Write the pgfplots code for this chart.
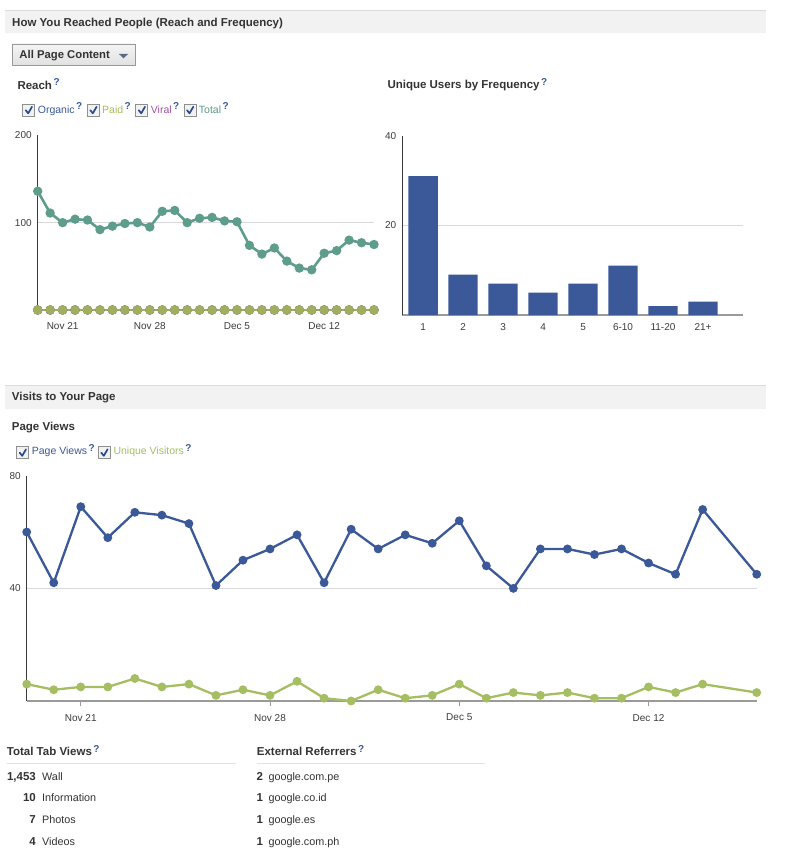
\documentclass[border=0pt]{standalone}
\usepackage{fontspec}
\setmainfont{Liberation Sans}
\usepackage{pgfplots}
\pgfplotsset{compat=1.18}
\usepackage{pgfplotstable}

\definecolor{txt}{HTML}{333333}
\definecolor{labelgray}{HTML}{3C3C3C}
\definecolor{gridgray}{HTML}{D9D9D9}
\definecolor{axisdark}{HTML}{3A3A3A}
\definecolor{xaxisgray}{HTML}{9A9A9A}
\definecolor{fbblue}{HTML}{3B5998}
\definecolor{tealc}{HTML}{5E9C8C}
\definecolor{olivec}{HTML}{A0AF5C}
\definecolor{uvgreen}{HTML}{A5BE62}
\definecolor{paidtxt}{HTML}{A9B957}
\definecolor{viralc}{HTML}{A552A6}
\definecolor{totaltxt}{HTML}{5B9A8B}
\definecolor{bandfill}{HTML}{F2F2F2}
\definecolor{bandline}{HTML}{DCDCDC}
\definecolor{cbborder}{HTML}{8E8F8F}
\definecolor{cbfill}{HTML}{F1F1F1}
\definecolor{cbcheck}{HTML}{2B4A8B}
\definecolor{sepline}{HTML}{E3E3E3}

\pgfplotstableread{
idx total zero
0 136 0
1 111 0
2 100 0
3 104 0
4 103 0
5 92 0
6 96 0
7 99 0
8 100 0
9 95 0
10 113 0
11 114 0
12 100 0
13 105 0
14 106 0
15 102 0
16 101 0
17 74 0
18 64 0
19 71 0
20 56 0
21 48 0
22 46 0
23 65 0
24 68 0
25 80 0
26 77 0
27 75 0
}\reachtable

\pgfplotstableread{
idx users
0 31
1 9
2 7
3 5
4 7
5 11
6 2
7 3
}\freqtable

\pgfplotstableread{
idx pv uv
0 60 6
1 42 4
2 69 5
3 58 5
4 67 8
5 66 5
6 63 6
7 41 2
8 50 4
9 54 2
10 59 7
11 42 1
12 61 0
13 54 4
14 59 1
15 56 2
16 64 6
17 48 1
18 40 3
19 54 2
20 54 3
21 52 1
22 54 1
23 49 5
24 45 3
25 68 6
27 45 3
}\pvtable

\newcommand{\hb}{\fontsize{11.5}{13}\selectfont\bfseries}
\newcommand{\rg}{\fontsize{10.5}{12}\selectfont}
\newcommand{\rl}{\fontsize{10.8}{12}\selectfont}
\newcommand{\qm}{\hspace{1.5pt}\raisebox{3.5pt}{\fontsize{10}{10}\selectfont\bfseries\color{fbblue}?}}

\newcommand{\cb}[2]{%
  \draw[draw=cbborder, fill=cbfill, line width=0.8pt] (#1,#2) rectangle ++(12,12);
  \draw[cbcheck, line width=1.7pt, line cap=round, line join=round] (#1+3,#2+6.2) -- (#1+5.5,#2+9.3) -- (#1+9.3,#2+2.8);
}

\pgfplotsset{
  fbaxis/.style={
    scale only axis, clip=false, axis lines*=left, anchor=south west,
    tick label style={font=\fontsize{10}{11}\selectfont, text=labelgray},
    /pgf/number format/assume math mode=true,
    major tick length=0pt,
    ymajorgrids, grid style={gridgray, line width=0.8pt},
    extra y tick style={grid=none},
    yticklabel style={xshift=-2.5pt},
  }
}

\begin{document}
\begin{tikzpicture}
\fill[white] (0pt,0pt) rectangle (794pt,-853pt);
\useasboundingbox (0pt,0pt) rectangle (794pt,-853pt);

\begin{scope}[x=1pt,y=-1pt]
  % header bands
  \fill[bandfill] (5,10) rectangle (766,33.3);
  \draw[bandline, line width=0.8pt] (5,10) -- (766,10);
  \fill[bandfill] (5,385) rectangle (766,409);
  \draw[bandline, line width=0.8pt] (5,385) -- (766,385);
  \node[anchor=base west, inner sep=0, font=\hb, text=txt] at (12,26.7) {How You Reached People (Reach and Frequency)};
  \node[anchor=base west, inner sep=0, font=\hb, text=txt] at (11.7,400.7) {Visits to Your Page};

  % dropdown button
  \shade[top color=white!96!black, bottom color=white!88!black] (12,44) rectangle (135.7,65.7);
  \draw[black!40, line width=0.9pt] (12,44) rectangle (135.7,65.7);
  \node[anchor=base west, inner sep=0, font=\fontsize{11.3}{13}\selectfont\bfseries, text=txt] at (19.3,59) {All Page Content};
  \fill[fbblue!55!gray] (118.7,53.8) -- (128.3,53.8) -- (123.5,58.3) -- cycle;

  % reach titles and legend
  \node[anchor=base west, inner sep=0, font=\hb, text=txt] at (17.3,89.3) {Reach\qm};
  \node[anchor=base west, inner sep=0, font=\hb, text=txt] at (387.3,88.8) {Unique Users by Frequency\qm};
  \cb{22.7}{104}
  \node[anchor=base west, inner sep=0, font=\rg, text=fbblue] at (37.7,113.3) {Organic\qm};
  \cb{87.3}{104}
  \node[anchor=base west, inner sep=0, font=\rg, text=paidtxt] at (102,113.3) {Paid\qm};
  \cb{135.7}{104}
  \node[anchor=base west, inner sep=0, font=\rg, text=viralc] at (150.7,113.3) {Viral\qm};
  \cb{184}{104}
  \node[anchor=base west, inner sep=0, font=\rg, text=totaltxt] at (198.7,113.3) {Total\qm};

  % page views title and legend
  \node[anchor=base west, inner sep=0, font=\hb, text=txt] at (11.7,430) {Page Views};
  \cb{16.7}{446.5}
  \node[anchor=base west, inner sep=0, font=\rg, text=fbblue] at (31.7,454.5) {Page Views\qm};
  \cb{98.3}{446.5}
  \node[anchor=base west, inner sep=0, font=\rg, text=uvgreen] at (113.3,454.5) {Unique Visitors\qm};

  % bottom lists
  \node[anchor=base west, inner sep=0, font=\hb, text=txt] at (6.7,755.7) {Total Tab Views\qm};
  \draw[sepline, line width=0.9pt] (6.7,763.3) -- (236,763.3);
  \node[anchor=base west, inner sep=0, font=\hb, text=txt] at (256.7,755.7) {External Referrers\qm};
  \draw[sepline, line width=0.9pt] (256.7,763.3) -- (485,763.3);

  \node[anchor=base east, inner sep=0, font=\hb, text=txt] at (36,780) {1,453};
  \node[anchor=base west, inner sep=0, font=\rl, text=txt] at (42,780) {Wall};
  \node[anchor=base east, inner sep=0, font=\hb, text=txt] at (36,801.7) {10};
  \node[anchor=base west, inner sep=0, font=\rl, text=txt] at (42,801.7) {Information};
  \node[anchor=base east, inner sep=0, font=\hb, text=txt] at (36,823.3) {7};
  \node[anchor=base west, inner sep=0, font=\rl, text=txt] at (42,823.3) {Photos};
  \node[anchor=base east, inner sep=0, font=\hb, text=txt] at (36,845) {4};
  \node[anchor=base west, inner sep=0, font=\rl, text=txt] at (42,845) {Videos};

  \node[anchor=base east, inner sep=0, font=\hb, text=txt] at (263.3,780) {2};
  \node[anchor=base west, inner sep=0, font=\rl, text=txt] at (268.3,780) {google.com.pe};
  \node[anchor=base east, inner sep=0, font=\hb, text=txt] at (263.3,801.7) {1};
  \node[anchor=base west, inner sep=0, font=\rl, text=txt] at (268.3,801.7) {google.co.id};
  \node[anchor=base east, inner sep=0, font=\hb, text=txt] at (263.3,823.3) {1};
  \node[anchor=base west, inner sep=0, font=\rl, text=txt] at (268.3,823.3) {google.es};
  \node[anchor=base east, inner sep=0, font=\hb, text=txt] at (263.3,845) {1};
  \node[anchor=base west, inner sep=0, font=\rl, text=txt] at (268.3,845) {google.com.ph};
\end{scope}

% ---------- Reach ----------
\begin{axis}[fbaxis,
  at={(37.7pt,-310pt)}, width=336.3pt, height=174.7pt,
  xmin=0, xmax=27, ymin=0, ymax=200,
  xtick={2,9,16,23}, xticklabels={Nov 21,Nov 28,Dec 5,Dec 12},
  ytick={100}, extra y ticks={200},
  x axis line style={draw=none},
  y axis line style={draw=axisdark, line width=1pt},
  xticklabel style={yshift=-9pt},
]
\addplot[fbblue, line width=2.6pt, mark=*, mark size=3.3pt, mark options={fill=fbblue, draw=fbblue}] table[x=idx, y=zero] {\reachtable};
\addplot[viralc, line width=2.6pt, mark=*, mark size=3.3pt, mark options={fill=viralc, draw=viralc}] table[x=idx, y=zero] {\reachtable};
\addplot[olivec, line width=2.6pt, mark=*, mark size=3.3pt, mark options={fill=olivec, draw=olivec}] table[x=idx, y=zero] {\reachtable};
\addplot[tealc, line width=2.6pt, mark=*, mark size=3.3pt, mark options={fill=tealc, draw=tealc}] table[x=idx, y=total] {\reachtable};
\end{axis}

% ---------- Unique users by frequency ----------
\begin{axis}[fbaxis,
  at={(402.3pt,-315pt)}, width=340.7pt, height=179.3pt,
  xmin=-0.52, xmax=8.0, ymin=0, ymax=40,
  ybar, bar width=29.3pt,
  xtick={0,...,7}, xticklabels={1,2,3,4,5,6-10,11-20,21+},
  ytick={20}, extra y ticks={40},
  x axis line style={draw=xaxisgray, line width=2pt},
  y axis line style={draw=axisdark, line width=1pt},
  xticklabel style={yshift=-5pt},
]
\addplot[fill=fbblue, draw=none] table[x=idx, y=users] {\freqtable};
\end{axis}

% ---------- Page views ----------
\begin{axis}[fbaxis,
  at={(26.7pt,-701pt)}, width=730pt, height=225.3pt,
  xmin=0, xmax=27, ymin=0, ymax=80,
  xtick={2,9,16,23}, xticklabels={Nov 21,Nov 28,Dec 5,Dec 12},
  ytick={40}, extra y ticks={80},
  x axis line style={draw=xaxisgray, line width=2pt},
  y axis line style={draw=axisdark, line width=1pt},
  major tick length=5pt,
  xtick style={draw=xaxisgray, line width=0.8pt},
  ytick style={draw=none},
  xtick align=outside,
  xticklabel style={yshift=-4.5pt},
]
\addplot[fbblue, line width=2.3pt, mark=*, mark size=3.2pt, mark options={fill=fbblue, draw=fbblue}] table[x=idx, y=pv] {\pvtable};
\addplot[uvgreen, line width=2.3pt, mark=*, mark size=3.2pt, mark options={fill=uvgreen, draw=uvgreen}] table[x=idx, y=uv] {\pvtable};
\end{axis}
\end{tikzpicture}
\end{document}
